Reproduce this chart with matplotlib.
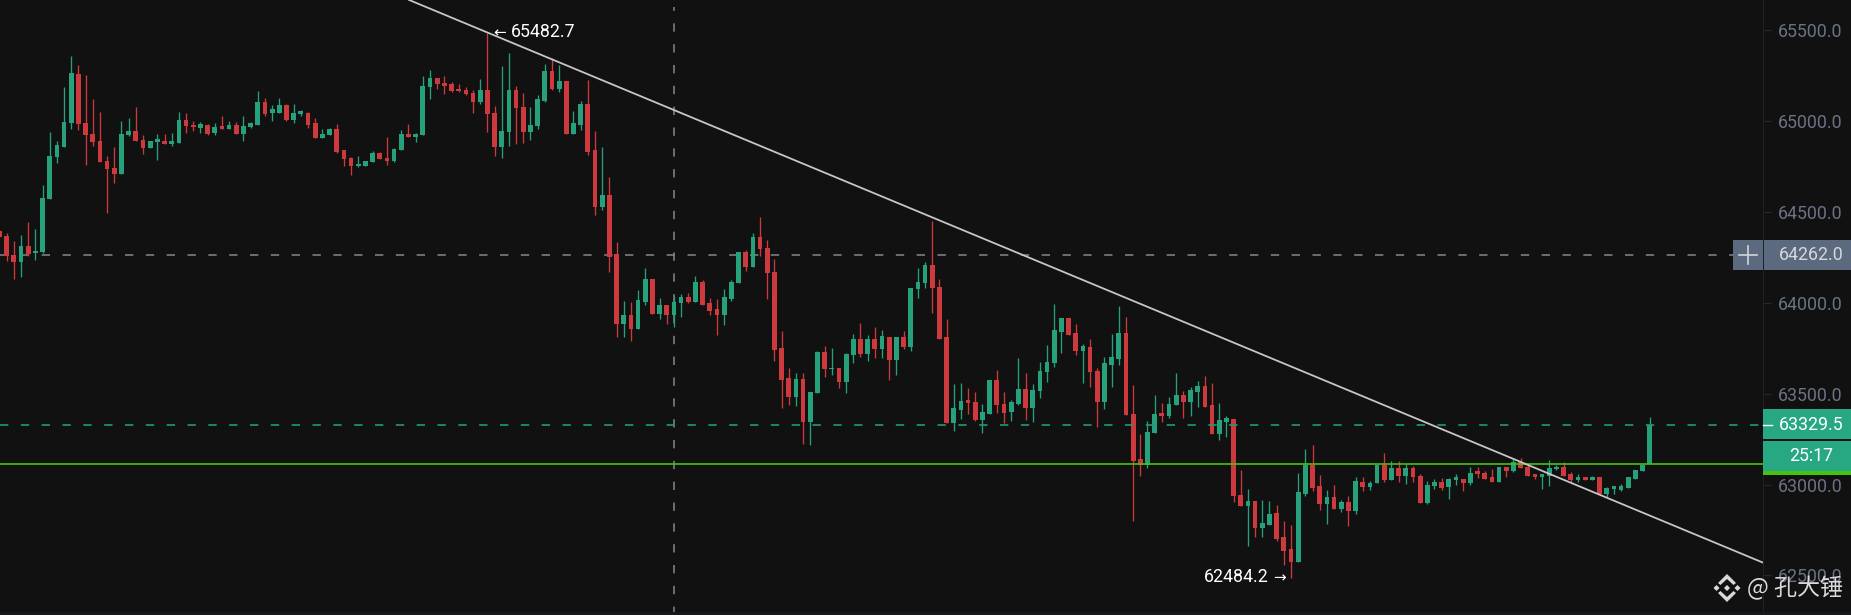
import numpy as np
import matplotlib
matplotlib.use('Agg')
import matplotlib.pyplot as plt
from matplotlib.patches import Polygon, Rectangle

# first candle is cut off by the left edge of the chart
opens = [64395,
    64370, 64261, 64223, 64313, 64272, 64282, 64570, 64801, 64860, 64992,
    65261, 64990, 64931, 64891, 64783, 64740, 64711, 64924, 64948, 64898,
    64850, 64883, 64891, 64874, 64882, 65006, 64981, 64964, 64981, 64933,
    64973, 64957, 64981, 64931, 64966, 64981, 65105, 65047, 65047, 65089,
    65006, 65038, 65047, 64990, 64907, 64924, 64955, 64839, 64799, 64751,
    64751, 64775, 64825, 64799, 64783, 64841, 64931, 64915, 64924, 65188,
    65238, 65212, 65205, 65179, 65172, 65155, 65105, 65172, 65047, 64858,
    64940, 65172, 65080, 64940, 64973, 65113, 65278, 65179, 65221, 64931,
    64981, 65096, 64841, 64527, 64592, 64271, 63883, 63933, 63858, 64006,
    64129, 63940, 63990, 63933, 63999, 64030, 64006, 64115, 63999, 63966,
    63933, 64023, 64107, 64278, 64195, 64362, 64304, 64171, 63749, 63586,
    63480, 63579, 63346, 63504, 63727, 63636, 63643, 63562, 63711, 63801,
    63718, 63801, 63744, 63810, 63685, 63810, 63759, 64074, 64107, 64206,
    64089, 63810, 63338, 63412, 63463, 63454, 63355, 63388, 63577, 63445,
    63397, 63445, 63527, 63421, 63513, 63619, 63667, 63841, 63916, 63832,
    63735, 63759, 63626, 63454, 63660, 63693, 63832, 63388, 63140, 63107,
    63281, 63395, 63379, 63437, 63494, 63454, 63511, 63544, 63437, 63280,
    63346, 63362, 62942, 62883, 62909, 62760, 62777, 62843, 62711, 62645,
    62571, 62949, 63107, 62992, 62893, 62933, 62868, 62902, 62852, 63015,
    62984, 63008, 63107, 63024, 63091, 63048, 63091, 63048, 62900, 62991,
    63015, 62984, 63024, 63032, 63008, 63074, 63065, 63041, 63015, 63098,
    63074, 63122, 63098, 63058, 63041, 63048, 63083, 63098, 63058, 63024,
    63041, 63024, 63041, 62947, 62975, 62971, 62982, 63032, 63076, 63113]

highs = [64401,
    64383, 64342, 64371, 64443, 64406, 64649, 64940, 64889, 65190, 65361,
    65307, 65252, 65120, 65052, 64806, 64860, 65001, 65017, 65080, 64922,
    64891, 64929, 64929, 64933, 65049, 65043, 64999, 64995, 64984, 64990,
    65028, 64999, 64997, 65027, 64997, 65164, 65126, 65089, 65126, 65096,
    65093, 65061, 65049, 65016, 64955, 64961, 64983, 64841, 64801, 64808,
    64783, 64836, 64828, 64915, 64850, 64950, 64983, 64933, 65247, 65282,
    65238, 65247, 65216, 65203, 65190, 65172, 65232, 65482.7, 65082, 65304,
    65375, 65195, 65153, 65080, 65146, 65313, 65350, 65311, 65221, 65056,
    65109, 65227, 64944, 64858, 64693, 64333, 64008, 64006, 64072, 64190,
    64129, 64026, 63990, 64039, 64049, 64056, 64149, 64126, 64025, 64023,
    64078, 64126, 64278, 64291, 64383, 64471, 64348, 64239, 63847, 63639,
    63615, 63612, 63511, 63735, 63762, 63749, 63643, 63722, 63830, 63889,
    63821, 63867, 63849, 63810, 63810, 63845, 64080, 64193, 64223, 64452,
    64133, 63913, 63555, 63560, 63531, 63509, 63443, 63577, 63630, 63511,
    63465, 63696, 63612, 63555, 63672, 63766, 63992, 63915, 63916, 63883,
    63771, 63801, 63639, 63700, 63828, 63981, 63922, 63546, 63278, 63348,
    63491, 63447, 63480, 63614, 63513, 63535, 63568, 63597, 63559, 63450,
    63377, 63362, 63082, 62975, 62909, 62914, 62907, 62885, 62797, 62777,
    63061, 63195, 63215, 63050, 62970, 62997, 62913, 62936, 63041, 63039,
    63017, 63107, 63171, 63129, 63129, 63111, 63103, 63058, 63019, 63028,
    63034, 63034, 63059, 63032, 63098, 63098, 63076, 63085, 63098, 63098,
    63138, 63144, 63107, 63058, 63058, 63135, 63105, 63124, 63067, 63058,
    63041, 63047, 63041, 62984, 62991, 63002, 63039, 63081, 63107, 63371]

lows = [64360,
    64232, 64133, 64144, 64258, 64234, 64272, 64570, 64772, 64860, 64959,
    64950, 64761, 64865, 64777, 64493, 64658, 64711, 64918, 64891, 64817,
    64850, 64786, 64876, 64865, 64882, 64937, 64948, 64935, 64922, 64926,
    64957, 64957, 64931, 64893, 64964, 64981, 65030, 65003, 65047, 65003,
    64988, 65028, 64961, 64907, 64907, 64924, 64823, 64753, 64702, 64750,
    64751, 64775, 64792, 64761, 64777, 64841, 64915, 64885, 64924, 65122,
    65179, 65150, 65162, 65162, 65146, 65047, 65094, 64938, 64808, 64799,
    64865, 64874, 64878, 64896, 64955, 65105, 65172, 65162, 64931, 64931,
    64951, 64816, 64485, 64511, 64171, 63810, 63810, 63790, 63858, 63990,
    63940, 63909, 63883, 63865, 63924, 64001, 64006, 63990, 63931, 63823,
    63878, 64012, 64107, 64177, 64195, 64260, 64023, 63682, 63421, 63438,
    63434, 63223, 63215, 63504, 63593, 63603, 63529, 63505, 63667, 63704,
    63680, 63694, 63698, 63577, 63603, 63744, 63737, 64028, 64082, 63942,
    63801, 63338, 63294, 63362, 63390, 63351, 63285, 63388, 63392, 63338,
    63351, 63437, 63357, 63346, 63476, 63566, 63648, 63726, 63825, 63713,
    63560, 63538, 63318, 63415, 63537, 63660, 63381, 62801, 63048, 63089,
    63281, 63346, 63364, 63437, 63366, 63379, 63428, 63428, 63280, 63245,
    63259, 62904, 62883, 62661, 62711, 62713, 62777, 62691, 62557, 62484.2,
    62571, 62937, 62966, 62859, 62784, 62865, 62848, 62771, 62839, 62966,
    62968, 63008, 63013, 63024, 63015, 63004, 63013, 62900, 62892, 62973,
    62969, 62920, 62995, 62964, 62999, 63034, 63030, 63015, 63015, 63041,
    63070, 63091, 63048, 63032, 62977, 62990, 63080, 63048, 63015, 63013,
    63024, 63024, 62942, 62933, 62947, 62962, 62982, 63032, 63076, 63113]

closes = [64364,
    64258, 64225, 64313, 64269, 64287, 64575, 64808, 64867, 64997, 65263,
    64983, 64926, 64883, 64777, 64735, 64711, 64931, 64948, 64891, 64850,
    64891, 64900, 64876, 64891, 65005, 64973, 64966, 64983, 64931, 64966,
    64957, 64981, 64931, 64973, 64988, 65105, 65038, 65065, 65089, 65006,
    65047, 65056, 64981, 64907, 64931, 64955, 64832, 64792, 64751, 64766,
    64783, 64825, 64792, 64783, 64849, 64931, 64915, 64931, 65195, 65238,
    65205, 65195, 65164, 65164, 65148, 65105, 65172, 65039, 64858, 64948,
    65172, 65072, 64940, 64981, 65122, 65278, 65179, 65221, 64931, 64990,
    65096, 64832, 64527, 64592, 64254, 63883, 63933, 63858, 64015, 64129,
    63940, 63990, 63933, 64006, 64030, 64006, 64115, 63990, 63957, 63933,
    64030, 64115, 64278, 64195, 64362, 64294, 64162, 63740, 63577, 63480,
    63579, 63346, 63511, 63727, 63636, 63643, 63562, 63718, 63801, 63718,
    63801, 63744, 63817, 63685, 63810, 63759, 64080, 64115, 64206, 64082,
    63801, 63338, 63419, 63461, 63447, 63353, 63397, 63577, 63437, 63395,
    63454, 63527, 63421, 63520, 63626, 63676, 63850, 63915, 63825, 63735,
    63760, 63619, 63454, 63669, 63700, 63834, 63381, 63131, 63107, 63289,
    63388, 63379, 63445, 63494, 63454, 63520, 63544, 63428, 63280, 63355,
    63364, 62937, 62883, 62907, 62760, 62786, 62836, 62702, 62636, 62571,
    62957, 63107, 62982, 62893, 62933, 62867, 62902, 62852, 63017, 62984,
    63008, 63107, 63024, 63091, 63048, 63091, 63041, 62900, 62999, 63015,
    62982, 63032, 63041, 63008, 63065, 63058, 63032, 63015, 63098, 63074,
    63122, 63091, 63048, 63041, 63058, 63091, 63098, 63048, 63024, 63041,
    63024, 63041, 62947, 62982, 62990, 62991, 63039, 63081, 63107, 63329.5]

price_ticks = [62500, 63000, 63500, 64000, 64500, 65000, 65500]
tick_labels = ['62500.0', '63000.0', '63500.0', '64000.0', '64500.0', '65000.0', '65500.0']

crosshair_price = 64262.0
crosshair_candle = 93
last_price = 63329.5
green_level = 63113
trend_x = [56.1, 244.8]
trend_y = [65667, 62570]

BG = '#111111'
GREEN = '#26a17b'
RED = '#cd3a3e'
W, H = 1851, 615
PANE = 1763

plt.rcParams['font.family'] = ['Roboto', 'DejaVu Sans']

fig = plt.figure(figsize=(W / 100, H / 100), dpi=100, facecolor=BG)
ax = fig.add_axes([0, 0, PANE / W, 1], facecolor=BG)

x = np.arange(len(opens)) - 1
o = np.array(opens)
c = np.array(closes)
colors = [GREEN if b >= a else RED for a, b in zip(o, c)]

ax.vlines(x, lows, highs, colors=colors, lw=0.95, zorder=2)
ax.bar(x, np.abs(c - o), bottom=np.minimum(o, c), width=0.66, color=colors,
       linewidth=0, zorder=3)

ax.axhline(crosshair_price, color='#7a7d8a', lw=1.2, dashes=(5, 7.5), zorder=1)
ax.axvline(crosshair_candle, color='#7a7d8a', lw=1.2, dashes=(5, 7.5), ymax=0.988, zorder=1)
ax.axhline(last_price, color='#1f9a78', lw=1.2, dashes=(5, 7.5), zorder=4)
ax.axhline(green_level, color='#46c20f', lw=1.2, zorder=5)
ax.plot(trend_x, trend_y, color='#c6c6c6', lw=1.3, zorder=6)

ax.set_xlim((0 - 6.67) / 7.175, (PANE - 6.67) / 7.175)
ax.set_ylim(62282, 65667)
ax.set_xticks([])
ax.yaxis.tick_right()
ax.set_yticks(price_ticks)
ax.set_yticklabels(tick_labels)
ax.tick_params(axis='y', length=6, width=0.9, color='#24272c', labelcolor='#6a7285',
               labelsize=12.8, pad=5)
for name, spine in ax.spines.items():
    spine.set_visible(name == 'right')
    spine.set_color('#1e2126')

# overlay in pixels for the price tags, labels and the watermark
px = fig.add_axes([0, 0, 1, 1], facecolor='none', zorder=10)
px.set_xlim(0, W)
px.set_ylim(H, 0)
px.axis('off')

px.add_patch(Rectangle((1733, 240), 30, 30, color='#5b6a7e', lw=0))
px.add_patch(Rectangle((1764, 240), 87, 30, color='#5b6a7e', lw=0))
px.plot([1739, 1757], [255, 255], color='#d4d6da', lw=1.2)
px.plot([1748, 1748], [246, 264], color='#d4d6da', lw=1.2)
px.text(1811, 255.5, '64262.0', color='#d6d8dc', fontsize=12.8, ha='center', va='center')

px.add_patch(Rectangle((1763, 409), 88, 30, color='#28a783', lw=0))
px.plot([1763, 1772], [425, 425], color='white', lw=1)
px.text(1811, 425, '63329.5', color='white', fontsize=12.8, ha='center', va='center')
px.add_patch(Rectangle((1763, 441), 88, 30, color='#28a783', lw=0))
px.add_patch(Rectangle((1763, 471), 88, 4, color='#46c20f', lw=0))
px.text(1811, 456, '25:17', color='white', fontsize=12.8, ha='center', va='center')

px.text(493, 33.5, '←', color='white', fontsize=11, ha='left', va='center')
px.text(511, 32, '65482.7', color='white', fontsize=12.8, ha='left', va='center')
px.text(1269, 577, '62484.2', color='white', fontsize=12.8, ha='right', va='center')
px.text(1273, 578.5, '→', color='white', fontsize=11, ha='left', va='center')

# binance logo
logo = '#d9d9d9'
cx, cy = 1727, 588
for dx, dy, r in [(0, 0, 3), (-10.5, 0, 3), (10.5, 0, 3)]:
    px.add_patch(Polygon([(cx + dx - r, cy + dy), (cx + dx, cy + dy - r),
                          (cx + dx + r, cy + dy), (cx + dx, cy + dy + r)], color=logo, lw=0))
for s in (-1, 1):
    px.add_patch(Polygon([(cx - 9, cy + s * 5), (cx, cy + s * 14), (cx + 9, cy + s * 5),
                          (cx + 6.5, cy + s * 3), (cx, cy + s * 9), (cx - 6.5, cy + s * 3)],
                         color=logo, lw=0))

px.text(1747, 588, '@ 孔大锤', color='#d9d9d9', fontsize=16.6, ha='left', va='center',
        family=['Noto Sans CJK SC', 'DejaVu Sans'])

px.add_patch(Rectangle((0, 612), W, 3, color='#17181b', lw=0))

fig.savefig('out.png', dpi=100, facecolor=BG)
